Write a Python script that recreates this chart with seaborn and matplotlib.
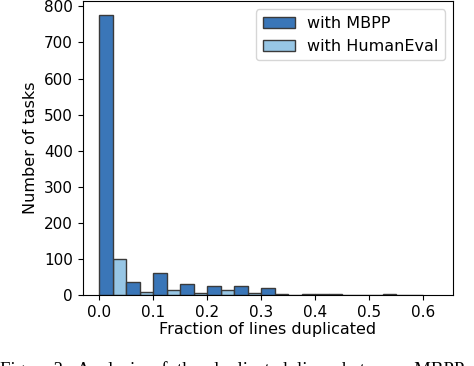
import numpy as np
import pandas as pd
import matplotlib
matplotlib.use("Agg")
import matplotlib.pyplot as plt
import seaborn as sns

# histogram counts per bin (bin width 0.05)
bin_edges = [0.0, 0.05, 0.1, 0.15, 0.2, 0.25, 0.3, 0.35, 0.4, 0.45, 0.5, 0.55, 0.6]
bin_starts = bin_edges[:-1]
mbpp_counts = [775, 35, 60, 30, 26, 26, 19, 1, 3, 0, 0, 0]
humaneval_counts = [100, 8, 15, 6, 13, 6, 4, 2, 2, 0, 3, 0]
labels = ["with MBPP", "with HumanEval"]

df = pd.DataFrame({
    "x": [b + 0.025 for b in bin_starts] * 2,
    "count": mbpp_counts + humaneval_counts,
    "source": [labels[0]] * len(bin_starts) + [labels[1]] * len(bin_starts),
})

plt.rcParams["font.family"] = ["DejaVu Sans"]
plt.rcParams["font.size"] = 11

fig = plt.figure(figsize=(4.74, 3.66), dpi=100)
ax = fig.add_axes([0.1745, 0.194, 0.7815, 0.802])

sns.histplot(data=df, x="x", weights="count", hue="source", bins=bin_edges,
             multiple="dodge", shrink=1, alpha=1,
             palette={labels[0]: "#3a76b8", labels[1]: "#97c6e5"},
             edgecolor="#3a3a3a", linewidth=1, ax=ax)

ax.set_xlim(-0.031, 0.656)
ax.set_xticks([0.0, 0.1, 0.2, 0.3, 0.4, 0.5, 0.6])
ax.tick_params(labelsize=11)
ax.set_xlabel("Fraction of lines duplicated", fontsize=11.5, labelpad=2)
ax.set_ylabel("Number of tasks", fontsize=11.5)

leg = ax.get_legend()
handles = leg.legend_handles
ax.legend(handles, labels, loc="upper right", fontsize=11.5)

# caption of the paper figure, only its top edge shows in the crop
fig.text(0.0, 1 - 361.5 / 366, "Figure 3:  Analysis  of  the  duplicated  lines  between  MBPP",
         family="Liberation Serif", fontsize=13.5, va="top", ha="left")

fig.savefig("out.png", dpi=100)
